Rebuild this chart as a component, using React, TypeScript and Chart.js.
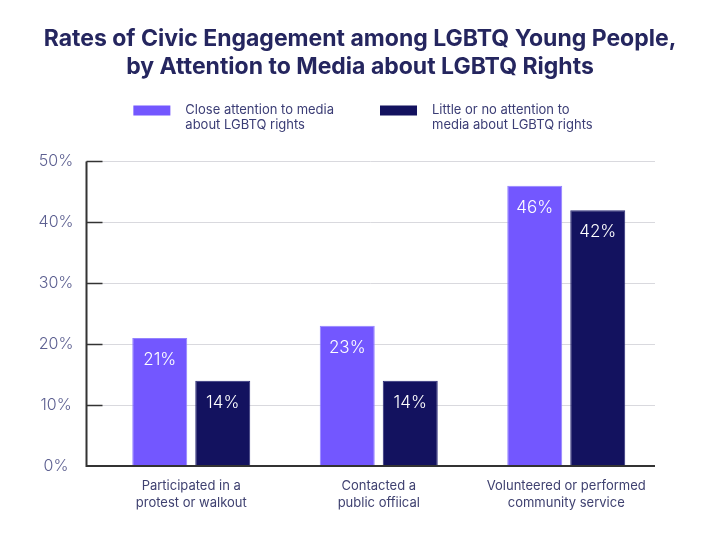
import { useEffect, useRef } from "react";
import { Chart, registerables } from "chart.js";
import type { Plugin } from "chart.js";

Chart.register(...registerables);

const titleLines = [
  "Rates of Civic Engagement among LGBTQ Young People,",
  "by Attention to Media about LGBTQ Rights",
];
const categories = [
  ["Participated in a", "protest or walkout"],
  ["Contacted a", "public offiical"],
  ["Volunteered or performed", "community service"],
];
const seriesNames = [
  ["Close attention to media", "about LGBTQ rights"],
  ["Little or no attention to", "media about LGBTQ rights"],
];
const closeAttention = [21, 23, 46];
const littleAttention = [14, 14, 42];
const yTicks = [0, 10, 20, 30, 40, 50];

const LIGHT = "#7357ff";
const DARK = "#13125f";
const NAVY_TEXT = "#25265f";
const FONT = "Inter";

// the y axis line sits a bit left of the category band, gridlines stop short on the right
const AXIS_SHIFT = 11;
const GRID_TRIM = 5;

const framePlugin: Plugin<"bar"> = {
  id: "frame",
  beforeDatasetsDraw(chart) {
    const { ctx, chartArea, scales } = chart;
    const y = scales.y;
    const left = chartArea.left - AXIS_SHIFT;
    const right = chartArea.right - GRID_TRIM;
    ctx.save();
    yTicks.forEach((v) => {
      const py = Math.round(y.getPixelForValue(v)) + 0.5;
      ctx.strokeStyle = "#d9d9de";
      ctx.lineWidth = 1;
      ctx.beginPath();
      ctx.moveTo(left, py);
      ctx.lineTo(right, py);
      ctx.stroke();
      if (v !== 0) {
        ctx.strokeStyle = "#333333";
        ctx.lineWidth = 1.5;
        ctx.beginPath();
        ctx.moveTo(left, py);
        ctx.lineTo(left + 16, py);
        ctx.stroke();
      }
    });
    ctx.restore();
  },
  afterDatasetsDraw(chart) {
    const { ctx, chartArea, scales } = chart;
    const y = scales.y;
    const left = chartArea.left - AXIS_SHIFT;
    const right = chartArea.right - GRID_TRIM;
    const top = y.getPixelForValue(yTicks[yTicks.length - 1]);
    const bottom = y.getPixelForValue(0);
    ctx.save();
    ctx.strokeStyle = "#333333";
    ctx.lineWidth = 2;
    ctx.beginPath();
    ctx.moveTo(left, top);
    ctx.lineTo(left, bottom);
    ctx.lineTo(right, bottom);
    ctx.stroke();

    // value labels inside the top of each bar
    ctx.fillStyle = "#ffffff";
    ctx.font = `300 17px ${FONT}`;
    ctx.textAlign = "center";
    ctx.textBaseline = "middle";
    chart.data.datasets.forEach((ds, i) => {
      chart.getDatasetMeta(i).data.forEach((el, j) => {
        ctx.fillText(`${ds.data[j]}%`, el.x, el.y + 22);
      });
    });
    ctx.restore();
  },
  afterDraw(chart) {
    const { ctx } = chart;
    const swatchW = 37;
    const swatchH = 10;
    const textGap = 15;
    const itemGap = 46;
    const lineY = 110.5;
    const lineH = 14.5;
    ctx.save();
    ctx.font = `400 13px ${FONT}`;
    const widths = seriesNames.map((lines) => Math.max(...lines.map((l) => ctx.measureText(l).width)));
    const total = widths.reduce((a, w) => a + swatchW + textGap + w, 0) + itemGap * (widths.length - 1);
    let x = (chart.width - total) / 2 + 3;
    chart.data.datasets.forEach((ds, i) => {
      ctx.fillStyle = ds.backgroundColor as string;
      ctx.fillRect(x, lineY - swatchH / 2, swatchW, swatchH);
      ctx.fillStyle = "#3b3d75";
      ctx.textAlign = "left";
      ctx.textBaseline = "middle";
      seriesNames[i].forEach((line, k) => {
        ctx.fillText(line, x + swatchW + textGap, lineY + k * lineH);
      });
      x += swatchW + textGap + widths[i] + itemGap;
    });
    ctx.restore();
  },
};

export default function App() {
  const canvasRef = useRef<HTMLCanvasElement>(null);
  const chartRef = useRef<Chart | null>(null);

  useEffect(() => {
    if (!canvasRef.current) return;
    if (chartRef.current) chartRef.current.destroy();

    chartRef.current = new Chart(canvasRef.current, {
      type: "bar",
      data: {
        labels: categories,
        datasets: [
          {
            label: seriesNames[0].join(" "),
            data: closeAttention,
            backgroundColor: LIGHT,
            borderColor: "#9382ff",
            borderWidth: 1,
            categoryPercentage: 0.672,
            barPercentage: 0.873,
          },
          {
            label: seriesNames[1].join(" "),
            data: littleAttention,
            backgroundColor: DARK,
            borderColor: "#2c2b78",
            borderWidth: 1,
            categoryPercentage: 0.672,
            barPercentage: 0.873,
          },
        ],
      },
      options: {
        animation: false,
        responsive: true,
        maintainAspectRatio: false,
        layout: { padding: { top: 10, right: 0, bottom: 17, left: 0 } },
        scales: {
          x: {
            grid: { display: false, drawTicks: false },
            border: { display: false },
            ticks: {
              color: "#3f4170",
              font: { family: FONT, size: 13, lineHeight: 1.35 },
              padding: 11,
              maxRotation: 0,
              autoSkip: false,
            },
          },
          y: {
            min: 0,
            max: 50,
            grid: { display: false, drawTicks: false },
            border: { display: false },
            afterFit: (scale) => {
              scale.width = 97.5;
            },
            afterBuildTicks: (scale) => {
              scale.ticks = yTicks.map((v) => ({ value: v }));
            },
            ticks: {
              color: "#5d6091",
              font: { family: FONT, size: 16, weight: "300" },
              crossAlign: "center",
              padding: 24,
              callback: (v) => `${v}%`,
            },
          },
          // empty right-hand gutter so the title stays centred on the page
          gutter: {
            type: "linear",
            position: "right",
            min: 0,
            max: 50,
            grid: { display: false, drawTicks: false },
            border: { display: false },
            ticks: { display: false },
            afterFit: (scale) => {
              scale.width = 60;
            },
          },
        },
        plugins: {
          legend: { display: false },
          tooltip: { enabled: false },
          title: {
            display: true,
            text: titleLines,
            color: NAVY_TEXT,
            font: { family: FONT, size: 23, weight: "bold", lineHeight: 1.217 },
            padding: { top: 15.5, bottom: 80 },
          },
        },
      },
      plugins: [framePlugin],
    });

    return () => {
      if (chartRef.current) {
        chartRef.current.destroy();
        chartRef.current = null;
      }
    };
  }, []);

  return (
    <div style={{ position: "fixed", left: 0, top: 0, width: 720, height: 540, background: "#ffffff" }}>
      <canvas ref={canvasRef} />
    </div>
  );
}
